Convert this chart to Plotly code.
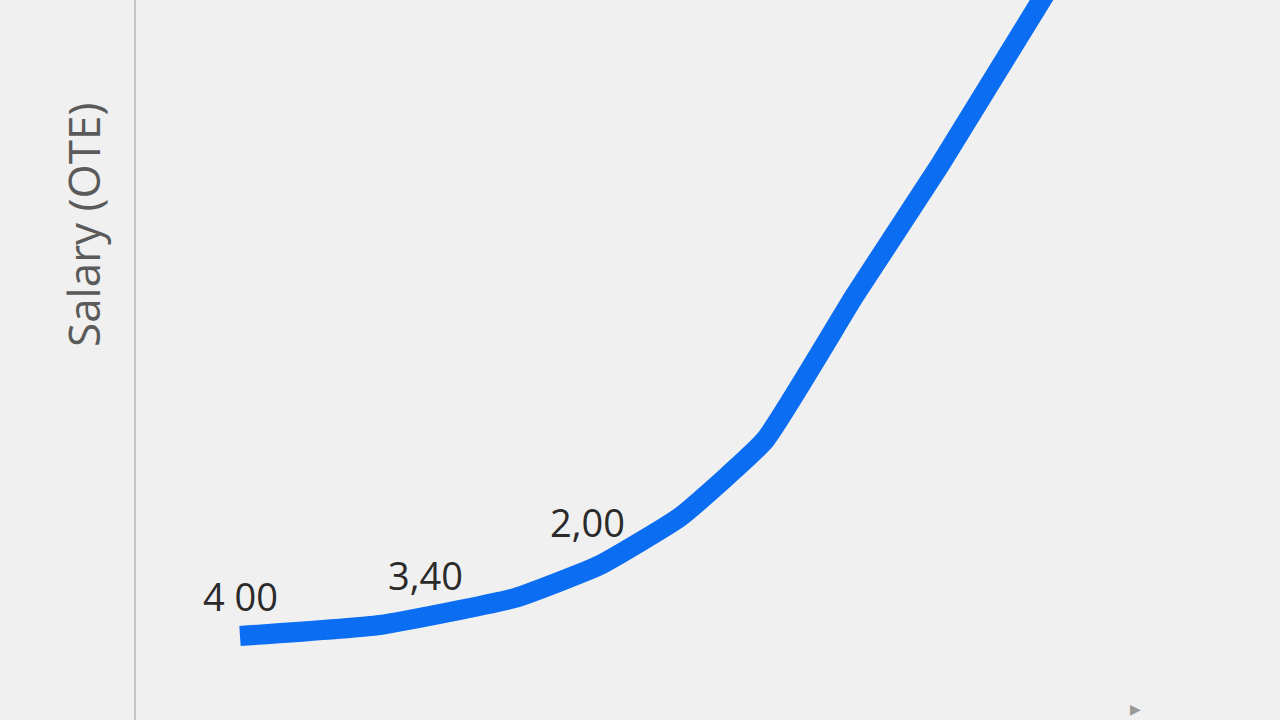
import plotly.graph_objects as go

# salary curve (arbitrary units)
steps = [1.04, 2.44, 3.79, 4.64, 5.44, 6.29, 7.19, 8.04, 9.24]
salary = [0.84, 0.95, 1.22, 1.55, 2.03, 2.80, 4.25, 5.55, 7.50]

label_x = [1.04, 2.89, 4.51]
label_y = [1.24, 1.45, 1.98]
label_text = ["4 00", "3,40", "2,00"]

fig = go.Figure()
fig.add_trace(go.Scatter(
    x=steps, y=salary, mode="lines",
    line=dict(color="#0b6df1", width=20, shape="spline", smoothing=0.4),
    hoverinfo="skip", showlegend=False,
))

for x, y, t in zip(label_x, label_y, label_text):
    fig.add_annotation(x=x, y=y, text=t, showarrow=False,
                       font=dict(family="Open Sans", size=38, color="#2a2a2a"))

fig.add_annotation(xref="paper", yref="paper", x=83 / 1280, y=1 - 225 / 720,
                   xanchor="center", yanchor="middle",
                   text="Salary (OTE)", textangle=-90, showarrow=False,
                   font=dict(family="Open Sans", size=44, color="#5a5a5a"))
fig.add_annotation(xref="paper", yref="paper", x=1143 / 1280, y=0.0, yanchor="bottom",
                   text="▶", showarrow=False,
                   font=dict(size=14, color="#9a9a9a"))

fig.update_layout(
    width=1280, height=720,
    margin=dict(l=0, r=0, t=0, b=0),
    paper_bgcolor="#f0f0f0", plot_bgcolor="#f0f0f0",
    xaxis=dict(domain=[136 / 1280, 1], range=[0, 11.44], showgrid=False,
               zeroline=False, showticklabels=False, showline=False),
    yaxis=dict(range=[0, 7.2], showgrid=False, zeroline=False,
               showticklabels=False, showline=True, linecolor="#c6c6c6",
               linewidth=2),
)

fig.write_html("out.html", config={"displayModeBar": False},
               post_script="document.body.style.margin='0';document.body.style.background='#f0f0f0';")
